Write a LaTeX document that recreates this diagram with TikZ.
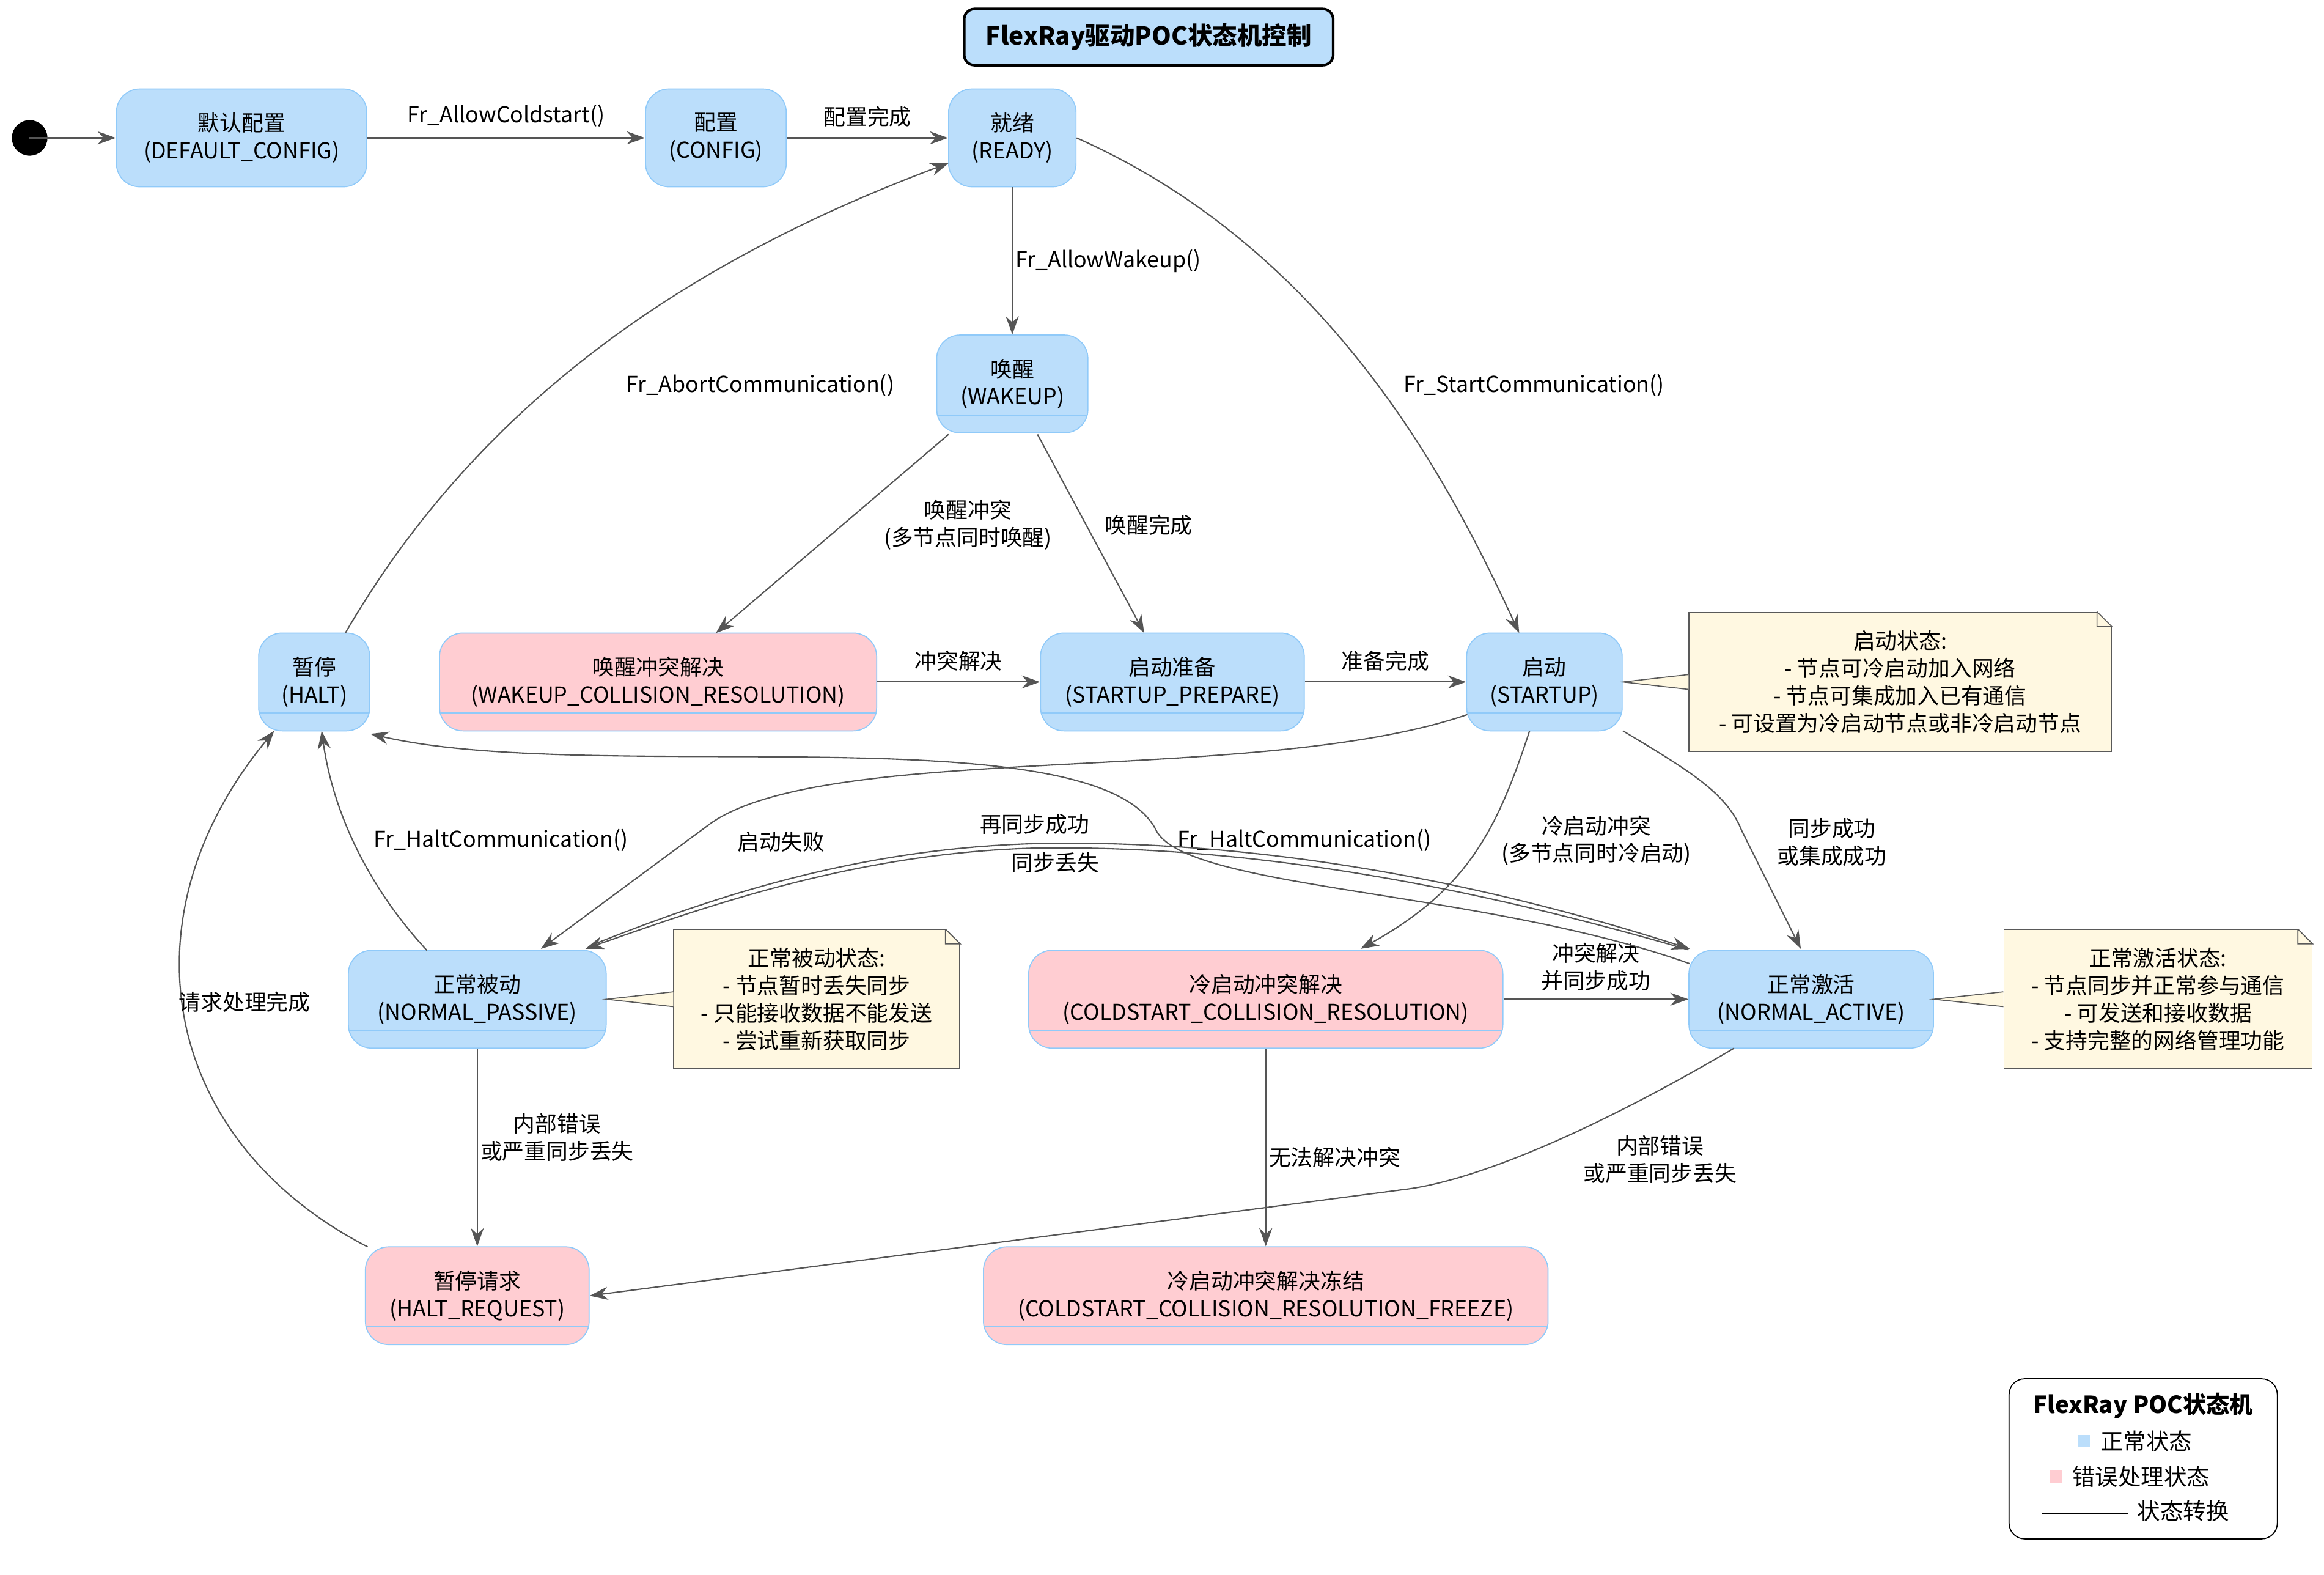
\documentclass[tikz,border=0pt]{standalone}
\usepackage{fontspec}
\setmainfont{Noto Sans CJK SC}
\usetikzlibrary{arrows.meta}
\definecolor{normfill}{HTML}{BBDEFB}
\definecolor{normline}{HTML}{90CAF9}
\definecolor{errfill}{HTML}{FFCDD2}
\definecolor{notefill}{HTML}{FFF8E1}
\definecolor{edgec}{HTML}{555555}

\tikzset{
  state/.style={draw=normline, fill=normfill, rounded corners=9pt, minimum height=1.32cm,
    align=center, font=\fontsize{8.4}{10.5}\selectfont, inner sep=2pt,
    path picture={\draw[normline] ([yshift=0.24cm]path picture bounding box.south west)
      -- ([yshift=0.24cm]path picture bounding box.south east);}},
  errstate/.style={state, fill=errfill},
  note/.style={draw=gray!70!black, fill=notefill, align=center, inner sep=2pt,
    font=\fontsize{8.4}{10.5}\selectfont},
  trans/.style={draw=edgec, -{Stealth[length=7pt,width=5pt]}, line width=0.5pt},
  lbl/.style={font=\fontsize{8.4}{10.5}\selectfont, align=center, inner sep=1pt},
}

\begin{document}
\begin{tikzpicture}[x=0.02cm, y=-0.02cm]
  \useasboundingbox (0,0) rectangle (1568,1062);

  % title
  \node[draw=black, line width=1pt, fill=normfill, rounded corners=4pt, minimum width=4.98cm,
    minimum height=0.76cm, font=\bfseries\fontsize{9.5}{11}\selectfont] (title) at (775,25) {FlexRay驱动POC状态机控制};

  % states
  \fill (20,93) circle (12) coordinate (start);
  \node[state, minimum width=3.38cm] (default) at (163,93) {默认配置\\(DEFAULT\_CONFIG)};
  \node[state, minimum width=1.9cm] (config) at (483,93) {配置\\(CONFIG)};
  \node[state, minimum width=1.72cm] (ready) at (683,93) {就绪\\(READY)};
  \node[state, minimum width=2.04cm] (wakeup) at (683,259) {唤醒\\(WAKEUP)};
  \node[state, minimum width=1.5cm] (halt) at (212,460) {暂停\\(HALT)};
  \node[errstate, minimum width=5.9cm] (wcr) at (444,460) {唤醒冲突解决\\(WAKEUP\_COLLISION\_RESOLUTION)};
  \node[state, minimum width=3.56cm] (prepare) at (791,460) {启动准备\\(STARTUP\_PREPARE)};
  \node[state, minimum width=2.1cm] (startup) at (1042,460) {启动\\(STARTUP)};
  \node[state, minimum width=3.48cm] (passive) at (322,674) {正常被动\\(NORMAL\_PASSIVE)};
  \node[errstate, minimum width=6.4cm] (ccr) at (854,674) {冷启动冲突解决\\(COLDSTART\_COLLISION\_RESOLUTION)};
  \node[state, minimum width=3.3cm] (active) at (1222,674) {正常激活\\(NORMAL\_ACTIVE)};
  \node[errstate, minimum width=3.02cm] (haltreq) at (322,874) {暂停请求\\(HALT\_REQUEST)};
  \node[errstate, minimum width=7.62cm] (freeze) at (854,874) {冷启动冲突解决冻结\\(COLDSTART\_COLLISION\_RESOLUTION\_FREEZE)};

  % notes
  \node[note, minimum width=5.7cm, minimum height=1.88cm] (nstartup) at (1282,460)
    {启动状态:\\- 节点可冷启动加入网络\\- 节点可集成加入已有通信\\- 可设置为冷启动节点或非冷启动节点};
  \node[note, minimum width=3.86cm, minimum height=1.88cm] (npassive) at (551,674)
    {正常被动状态:\\- 节点暂时丢失同步\\- 只能接收数据不能发送\\- 尝试重新获取同步};
  \node[note, minimum width=4.16cm, minimum height=1.88cm] (nactive) at (1456,674)
    {正常激活状态:\\- 节点同步并正常参与通信\\- 可发送和接收数据\\- 支持完整的网络管理功能};
  \foreach \n in {nstartup,npassive,nactive}{
    \fill[white] ([xshift=-0.2cm]\n.north east) -- (\n.north east) -- ([yshift=-0.2cm]\n.north east) -- cycle;
    \draw[gray!70!black] ([xshift=-0.2cm]\n.north east) -- ([xshift=-0.2cm,yshift=-0.2cm]\n.north east)
      -- ([yshift=-0.2cm]\n.north east) -- ([xshift=-0.2cm]\n.north east);
  }
  \draw[gray!70!black, fill=notefill] ([yshift=0.1cm]nstartup.west) -- (startup.east) -- ([yshift=-0.1cm]nstartup.west);
  \draw[gray!70!black, fill=notefill] ([yshift=0.1cm]npassive.west) -- (passive.east) -- ([yshift=-0.1cm]npassive.west);
  \draw[gray!70!black, fill=notefill] ([yshift=0.1cm]nactive.west) -- (active.east) -- ([yshift=-0.1cm]nactive.west);

  % transitions
  \draw[trans] (start) -- (default);
  \draw[trans] (default) -- node[lbl, above=3pt] {Fr\_AllowColdstart()} (config);
  \draw[trans] (config) -- node[lbl, above=3pt] {配置完成} (ready);
  \draw[trans] (ready) -- node[lbl, right, pos=0.5] {Fr\_AllowWakeup()} (wakeup);
  \draw[trans] (ready.east) .. controls (900,170) and (980,330) .. (1025,427);
  \node[lbl] at (1035,260) {Fr\_StartCommunication()};
  \draw[trans] (233,427) .. controls (330,260) and (480,170) .. (640,110);
  \node[lbl] at (513,260) {Fr\_AbortCommunication()};
  \draw[trans] (640,293) -- (483,427);
  \node[lbl] at (653,354) {唤醒冲突\\(多节点同时唤醒)};
  \draw[trans] (700,293) -- (772,427);
  \node[lbl] at (775,354) {唤醒完成};
  \draw[trans] (wcr) -- node[lbl, above=3pt] {冲突解决} (prepare);
  \draw[trans] (prepare) -- node[lbl, above=3pt] {准备完成} (startup);
  \draw[trans] (990,482) .. controls (850,530) and (560,500) .. (480,555) -- (365,640);
  \node[lbl] at (527,568) {启动失败};
  \draw[trans] (1032,493) .. controls (1010,560) and (990,600) .. (918,640);
  \node[lbl] at (1077,567) {冷启动冲突\\(多节点同时冷启动)};
  \draw[trans] (1095,493) .. controls (1140,520) and (1165,535) .. (1175,560) -- (1215,640);
  \node[lbl] at (1236,568) {同步成功\\或集成成功};
  \draw[trans] (ccr) -- node[lbl, above=2pt] {冲突解决\\并同步成功} (active);
  \draw[trans] (ccr) -- node[lbl, right, pos=0.55] {无法解决冲突} (freeze);
  \draw[trans] (1170,707) .. controls (1080,760) and (1000,795) .. (950,802) -- (haltreq.east);
  \node[lbl] at (1120,782) {内部错误\\或严重同步丢失};
  \draw[trans] (passive) -- node[lbl, right, pos=0.45] {内部错误\\或严重同步丢失} (haltreq);
  \draw[trans] (288,641) .. controls (250,600) and (225,550) .. (217,493);
  \node[lbl] at (338,567) {Fr\_HaltCommunication()};
  \draw[trans] (248,841) .. controls (110,770) and (80,620) .. (185,493);
  \node[lbl] at (165,676) {请求处理完成};
  \draw[trans] (1140,650) .. controls (1000,600) and (800,600) .. (780,560)
    .. controls (740,480) and (400,530) .. (250,495);
  \node[lbl] at (880,567) {Fr\_HaltCommunication()};
  \draw[trans] (active.north west) .. controls (1000,600) and (850,570) .. (700,572)
    .. controls (580,575) and (480,610) .. (395,640);
  \draw[trans] (398,638) .. controls (480,605) and (580,572) .. (700,569)
    .. controls (850,566) and (1000,595) .. (1140,640);
  \node[lbl] at (698,556) {再同步成功};
  \node[lbl] at (712,582) {同步丢失};

  % legend
  \node[draw=black, rounded corners=6pt, minimum width=3.62cm, minimum height=2.16cm] (legend) at (1446,984) {};
  \node[font=\bfseries\fontsize{9}{11}\selectfont] (legtitle) at (1446,948) {FlexRay POC状态机};
  \fill[normfill] (1402,968) rectangle (1410,976);
  \node[lbl, font=\fontsize{8.8}{11}\selectfont, anchor=west] (legnorm) at (1415,972) {正常状态};
  \fill[errfill] (1383,992) rectangle (1391,1000);
  \node[lbl, font=\fontsize{8.8}{11}\selectfont, anchor=west] (legerr) at (1396,996) {错误处理状态};
  \draw (1378,1021) -- (1436,1021);
  \node[lbl, font=\fontsize{8.8}{11}\selectfont, anchor=west] (legtrans) at (1440,1019) {状态转换};
\end{tikzpicture}
\end{document}
